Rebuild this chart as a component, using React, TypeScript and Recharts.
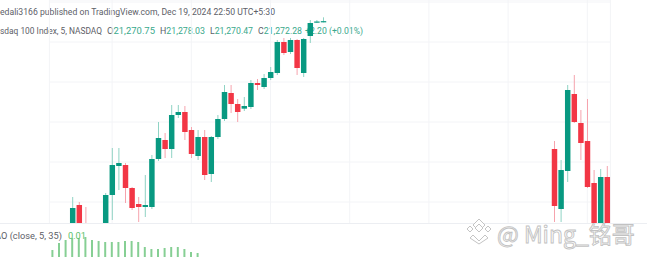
import React from 'react';
import { ComposedChart, BarChart, Bar, XAxis, YAxis, CartesianGrid } from 'recharts';

// ---- candle data: first session, slots -3 .. 38 (5-min bars)
const FIRST_SLOT = -3;
const openA = [20940, 20950, 20958, 20969.5, 20996.5, 20965, 20956, 20942, 20962, 21011.5, 21055, 21056.5, 21022, 20998, 20993.5, 20993.5, 21065.5, 21094, 21080.5, 21131.5, 21136, 21109, 21070, 21098.5, 21043, 21098.5, 21125.5, 21164.5, 21148, 21141, 21143.5, 21179.5, 21173.5, 21187, 21194.5, 21241, 21226, 21244, 21194.5, 21250, 21270.25, 21270.75];
const highA = [20955, 20962, 20964, 21008.5, 21001, 20993.5, 20960, 20962, 21014.5, 21082, 21082, 21059.5, 21023.5, 21008.5, 21041.5, 21071.5, 21121, 21104.5, 21146.5, 21146.5, 21145, 21113.5, 21109, 21109, 21100, 21131.5, 21176.5, 21176.5, 21155.5, 21158.5, 21184, 21185.5, 21193, 21203.5, 21244, 21247, 21247, 21245.5, 21247, 21274, 21274, 21278.03];
const lowA = [20930, 20942, 20945, 20965, 20964, 20944, 20932, 20936, 20959, 20974, 21019, 20999.5, 20989, 20971, 20978.5, 20990.5, 21062.5, 21067, 21067, 21127, 21094, 21067, 21064, 21034, 21031, 21095.5, 21122.5, 21134.5, 21121, 21137.5, 21140.5, 21169, 21170.5, 21184, 21191.5, 21221.5, 21223, 21191.5, 21188.5, 21239.5, 21269.5, 21270.47];
const closeA = [20950, 20958, 20948, 20992, 20969.5, 20956, 20940, 20958, 21011.5, 21056.5, 21059.5, 21022, 20992, 20993.5, 20996.5, 21065.5, 21097, 21080.5, 21131.5, 21136, 21106, 21073, 21098.5, 21041.5, 21098.5, 21125.5, 21166, 21148, 21136, 21145, 21179.5, 21176.5, 21187, 21196, 21241, 21224.5, 21244, 21202, 21245.5, 21269.5, 21271.75, 21272.28];

// ---- empty stretch between the two sessions
const GAP_SLOTS = 34;

// ---- second session, slots 73 .. 81
const openB = [21080.5, 20990.5, 21047.5, 21163, 21119.5, 21092.5, 21029.5, 20951.5, 21038.5];
const highB = [21092.5, 21064, 21176.5, 21191.5, 21139, 21155.5, 21049, 21050.5, 21055];
const lowB = [20971, 20971, 21031, 21119.5, 21064, 21022, 20944, 20947, 20941];
const closeB = [20995, 21049, 21169, 21121, 21089.5, 21023.5, 20956, 21038.5, 20950];

// ---- Awesome Oscillator (visible bars, from slot -3)
const aoValues = [20, 23.5, 25, 26, 26, 26.5, 25, 24.5, 24, 24, 24, 24.5, 24.5, 24, 21.5, 20.5, 20.5, 21, 21.5, 21.5, 20.5, 19, 18.5];

// ---- texts
const headerLine1 = 'edali3166 published on TradingView.com, Dec 19, 2024 22:50 UTC+5:30';
const symbolText = 'sdaq 100 Index, 5, NASDAQ';
const ohlcLabels = ['O', 'H', 'L', 'C'];
const ohlcValues = ['21,270.75', '21,278.03', '21,270.47', '21,272.28'];
const changeText = '+2.20 (+0.01%)';
const aoLabel = 'AO (close, 5, 35)';
const aoLast = '0.01';
const watermark = '@ Ming_铭哥';

const priceTicks = [21001, 21061, 21121, 21181, 21241, 21301];
const timeTicks = ['6', '18', '30', '42', '54', '66', '78'];

const UP = '#089981';
const DOWN = '#f23645';
const UP_WICK = '#8fd3c4';
const DOWN_WICK = '#f6a3ad';
const AO_COLOR = '#86cf94';

type Row = {
  slot: string;
  open: number | null;
  high: number | null;
  low: number | null;
  close: number | null;
  range: [number, number] | null;
  ao: number | null;
};

const rows: Row[] = [];
const pushRow = (o: number | null, h: number | null, l: number | null, c: number | null) => {
  const slot = FIRST_SLOT + rows.length;
  rows.push({
    slot: String(slot),
    open: o,
    high: h,
    low: l,
    close: c,
    range: h != null && l != null ? [l, h] : null,
    ao: null,
  });
};
openA.forEach((o, k) => pushRow(o, highA[k], lowA[k], closeA[k]));
for (let g = 0; g < GAP_SLOTS; g++) pushRow(null, null, null, null);
openB.forEach((o, k) => pushRow(o, highB[k], lowB[k], closeB[k]));
aoValues.forEach((v, k) => {
  rows[k].ao = v;
});

const Candle = (props: any) => {
  const { x, y, width, height, payload } = props;
  if (!payload || payload.open == null || x == null || y == null) return <g />;
  const { open, close, high, low } = payload;
  const top = Math.min(y, y + height);
  const bot = Math.max(y, y + height);
  const span = high - low;
  const toY = (p: number) => (span === 0 ? top : top + ((high - p) / span) * (bot - top));
  const up = close >= open;
  const cx = x + width / 2;
  const bodyTop = toY(Math.max(open, close));
  const bodyBot = toY(Math.min(open, close));
  const bw = width * 0.78;
  return (
    <g>
      <line x1={cx} x2={cx} y1={top} y2={bot} stroke={up ? UP_WICK : DOWN_WICK} strokeWidth={1} />
      <rect x={cx - bw / 2} y={bodyTop} width={bw} height={Math.max(1.2, bodyBot - bodyTop)} fill={up ? UP : DOWN} />
    </g>
  );
};

const MARGIN = { top: 0, right: 36.6, bottom: 0, left: 49.4 };
const FONT = 'Roboto, "Liberation Sans", sans-serif';
const GRAY = '#5d6068';
const GREEN_TXT = '#3aa98c';

const ohlcX = [107, 160, 210, 258];
const ohlcW = [48, 45, 43, 44];

export default function App() {
  return (
    <div
      style={{
        position: 'fixed',
        left: 0,
        top: 0,
        width: 647,
        height: 257,
        overflow: 'hidden',
        background: '#ffffff',
      }}
    >
      {/* header texts */}
      <svg width={647} height={44} style={{ position: 'absolute', left: 0, top: 0 }}>
        <text x={0} y={14.5} fontFamily={FONT} fontSize={8.8} fill={GRAY} textLength={275} lengthAdjust="spacingAndGlyphs">
          {headerLine1}
        </text>
        <text x={0} y={33.5} fontFamily={FONT} fontSize={8.8} fill={GRAY} textLength={102} lengthAdjust="spacingAndGlyphs">
          {symbolText}
        </text>
        {ohlcLabels.map((lab, k) => (
          <text
            key={lab}
            x={ohlcX[k]}
            y={33.5}
            fontFamily={FONT}
            fontSize={8.8}
            textLength={ohlcW[k]}
            lengthAdjust="spacingAndGlyphs"
          >
            <tspan fill={GRAY}>{lab}</tspan>
            <tspan fill={GREEN_TXT}>{ohlcValues[k]}</tspan>
          </text>
        ))}
        <text x={305} y={33.5} fontFamily={FONT} fontSize={8.8} fill={GREEN_TXT} textLength={58} lengthAdjust="spacingAndGlyphs">
          {changeText}
        </text>
      </svg>

      {/* price pane */}
      <div style={{ position: 'absolute', left: 0, top: 0, width: 647, height: 224, overflow: 'hidden' }}>
        <ComposedChart width={647} height={300} data={rows} margin={MARGIN} barCategoryGap={0} barGap={0}>
          <CartesianGrid stroke="#f3f4f7" horizontal vertical />
          <XAxis dataKey="slot" hide ticks={timeTicks} interval={0} />
          <YAxis hide domain={[20854, 21304]} allowDataOverflow ticks={priceTicks} />
          <Bar dataKey="range" shape={Candle} isAnimationActive={false} />
        </ComposedChart>
      </div>

      {/* pane separator */}
      <div style={{ position: 'absolute', left: 0, top: 223, width: 647, height: 1, background: '#eceef2' }} />

      {/* AO pane */}
      <div style={{ position: 'absolute', left: 0, top: 224, width: 647, height: 66 }}>
        <BarChart width={647} height={66} data={rows} margin={MARGIN} barCategoryGap={0}>
          <XAxis dataKey="slot" hide />
          <YAxis hide domain={[0, 33]} allowDataOverflow />
          <Bar dataKey="ao" fill={AO_COLOR} barSize={2} isAnimationActive={false} />
        </BarChart>
      </div>
      <svg width={647} height={30} style={{ position: 'absolute', left: 0, top: 227 }}>
        <text x={-5} y={11.5} fontFamily={FONT} fontSize={8.8} fill={GRAY} textLength={67} lengthAdjust="spacingAndGlyphs">
          {aoLabel}
        </text>
        <text x={68} y={11.5} fontFamily={FONT} fontSize={8.8} fill="#5cbf6c" textLength={18} lengthAdjust="spacingAndGlyphs">
          {aoLast}
        </text>
      </svg>

      {/* watermark */}
      <svg width={647} height={257} style={{ position: 'absolute', left: 0, top: 0 }}>
        <g fill="#ffffff" stroke="#c4c4c4" strokeWidth={1}>
          <polygon points="479,219 485,225 479,231 473,225" />
          <polygon points="479,224 483,228 479,232 475,228" />
          <polygon points="470,226 473,229 470,232 467,229" />
          <polygon points="488,226 491,229 488,232 485,229" />
          <polygon points="473,235 479,241 485,235 488,238 479,244 470,238" />
        </g>
        <text
          x={497}
          y={243}
          fontFamily='"Noto Sans CJK SC", "Noto Sans", sans-serif'
          fontSize={23}
          fill="#ffffff"
          stroke="#c2c2c2"
          strokeWidth={0.9}
        >
          {watermark}
        </text>
      </svg>
    </div>
  );
}
